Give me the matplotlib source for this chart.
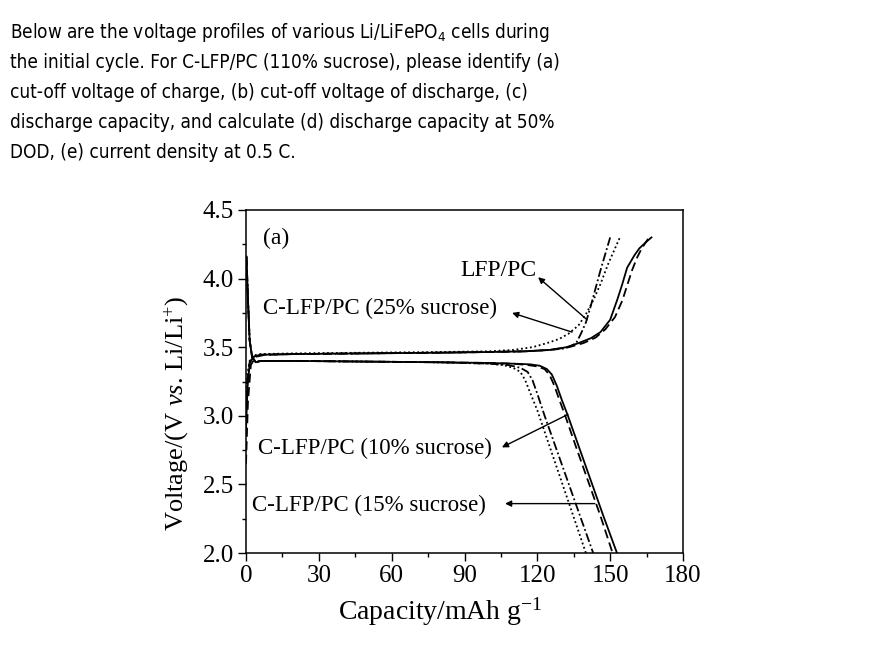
import matplotlib
matplotlib.use("Agg")
import matplotlib.pyplot as plt
from matplotlib.ticker import MultipleLocator, FormatStrFormatter
from matplotlib import font_manager

W, H = 890, 651

# ---------------- data ----------------
# charge curves
chg_10_x = [0, 0.6, 1.5, 3, 6, 20, 50, 80, 100, 115, 125, 132, 137, 142, 146, 150, 153, 155, 157, 160, 162, 165, 167]
chg_10_v = [2.90, 3.20, 3.38, 3.43, 3.445, 3.45, 3.455, 3.46, 3.465, 3.47, 3.48, 3.50, 3.53, 3.565, 3.61, 3.70, 3.85, 3.96, 4.08, 4.17, 4.22, 4.27, 4.30]

chg_15_x = [0, 0.8, 2, 4, 8, 20, 50, 80, 100, 115, 125, 133, 139, 144, 148, 152, 155, 157, 159, 161, 163, 166]
chg_15_v = [2.65, 3.10, 3.37, 3.43, 3.445, 3.45, 3.455, 3.46, 3.465, 3.47, 3.48, 3.50, 3.53, 3.57, 3.63, 3.72, 3.84, 3.95, 4.06, 4.15, 4.22, 4.30]

chg_lfp_x = [0, 0.5, 1.5, 3, 6, 20, 50, 80, 100, 115, 125, 131, 134, 136, 138, 140, 142, 144, 146, 148, 150]
chg_lfp_v = [3.00, 3.25, 3.39, 3.43, 3.445, 3.45, 3.455, 3.46, 3.465, 3.47, 3.48, 3.49, 3.51, 3.53, 3.60, 3.68, 3.80, 3.93, 4.06, 4.18, 4.30]

chg_25_x = [0, 0.5, 1.5, 3, 6, 20, 50, 80, 100, 110, 118, 124, 129, 133, 137, 140, 143, 146, 149, 152, 154]
chg_25_v = [3.10, 3.30, 3.40, 3.44, 3.45, 3.455, 3.46, 3.465, 3.47, 3.48, 3.50, 3.53, 3.56, 3.60, 3.66, 3.74, 3.84, 3.96, 4.10, 4.22, 4.30]

# discharge curves
dis_10_x = [0.2, 0.8, 1.5, 2.5, 4, 6, 20, 50, 80, 100, 110, 117, 121, 124, 126, 128, 130, 132.6, 137, 142, 147, 152.8]
dis_10_v = [4.16, 3.85, 3.55, 3.43, 3.39, 3.40, 3.40, 3.395, 3.39, 3.385, 3.38, 3.375, 3.365, 3.34, 3.30, 3.22, 3.12, 3.00, 2.78, 2.53, 2.28, 2.00]

dis_15_x = [0.2, 0.8, 1.5, 2.5, 4, 6, 20, 50, 80, 100, 110, 116, 120, 123, 125, 127, 129, 131.5, 136, 141, 146, 151]
dis_15_v = [4.16, 3.85, 3.55, 3.43, 3.39, 3.40, 3.40, 3.395, 3.39, 3.385, 3.38, 3.37, 3.36, 3.34, 3.30, 3.22, 3.12, 3.00, 2.77, 2.52, 2.27, 2.00]

dis_lfp_x = [0.2, 0.8, 1.5, 2.5, 4, 6, 20, 50, 80, 100, 108, 113, 116, 118, 120, 123, 128, 133, 138, 143]
dis_lfp_v = [4.16, 3.85, 3.55, 3.43, 3.39, 3.40, 3.40, 3.395, 3.39, 3.38, 3.37, 3.35, 3.32, 3.26, 3.16, 3.00, 2.75, 2.50, 2.25, 2.00]

dis_25_x = [0.2, 0.8, 1.5, 2.5, 4, 6, 20, 50, 80, 100, 106, 110, 113, 115, 117, 120, 125, 130, 135, 140]
dis_25_v = [4.16, 3.85, 3.55, 3.43, 3.39, 3.40, 3.40, 3.395, 3.39, 3.38, 3.37, 3.35, 3.32, 3.26, 3.17, 3.04, 2.78, 2.52, 2.26, 2.00]

x_ticks = [0, 30, 60, 90, 120, 150, 180]
y_ticks = [2.0, 2.5, 3.0, 3.5, 4.0, 4.5]

question_lines = [
    r"Below are the voltage profiles of various Li/LiFePO$_\mathregular{4}$ cells during",
    "the initial cycle. For C-LFP/PC (110% sucrose), please identify (a)",
    "cut-off voltage of charge, (b) cut-off voltage of discharge, (c)",
    "discharge capacity, and calculate (d) discharge capacity at 50%",
    "DOD, (e) current density at 0.5 C.",
]

serif = "Liberation Serif"

# the original question uses a narrow sans; take a condensed face if one is installed
narrow = None
for f in font_manager.fontManager.ttflist:
    nm = f.fname.lower()
    if ("condensed" in nm or "narrow" in nm) and "sans" in nm and "bold" not in nm \
            and "oblique" not in nm and "italic" not in nm and "mono" not in nm:
        narrow = f.fname
        break

if narrow:
    qfont = font_manager.FontProperties(fname=narrow)
    target_w = 540
else:
    qfont = font_manager.FontProperties(family="Lato")
    target_w = 600

plt.rcParams["mathtext.fontset"] = "custom"
plt.rcParams["mathtext.rm"] = qfont.get_name() if narrow else "Lato"
plt.rcParams["font.family"] = serif

fig = plt.figure(figsize=(W / 100, H / 100), dpi=100)
renderer = fig.canvas.get_renderer()

# size the question so its first line is roughly as long as in the original
qfont.set_size(17)
probe = fig.text(0, 0, question_lines[0], fontproperties=qfont)
w = probe.get_window_extent(renderer).width
probe.remove()
qfont.set_size(17 * target_w / w)

for i, line in enumerate(question_lines):
    fig.text(10 / W, 1 - (37.5 + 30 * i) / H, line, fontproperties=qfont,
             ha="left", va="baseline")

plt.rcParams["mathtext.rm"] = serif
plt.rcParams["mathtext.it"] = serif + ":italic"

ax = fig.add_axes([246 / W, 1 - 553 / H, (683 - 246) / W, (553 - 210) / H])

style = dict(color="black", lw=1.3)
ax.plot(chg_10_x, chg_10_v, ls="-", **style)
ax.plot(dis_10_x, dis_10_v, ls="-", **style)
ax.plot(chg_15_x, chg_15_v, ls=(0, (5, 2.5)), **style)
ax.plot(dis_15_x, dis_15_v, ls=(0, (5, 2.5)), **style)
ax.plot(chg_lfp_x, chg_lfp_v, ls=(0, (5, 1.5, 1, 1.5)), **style)
ax.plot(dis_lfp_x, dis_lfp_v, ls=(0, (5, 1.5, 1, 1.5)), **style)
ax.plot(chg_25_x, chg_25_v, ls=(0, (1, 1.5)), **style)
ax.plot(dis_25_x, dis_25_v, ls=(0, (1, 1.5)), **style)

ax.set_xlim(0, 180)
ax.set_ylim(2.0, 4.5)
ax.set_xticks(x_ticks)
ax.set_yticks(y_ticks)
ax.xaxis.set_minor_locator(MultipleLocator(15))
ax.yaxis.set_minor_locator(MultipleLocator(0.25))
ax.tick_params(which="both", direction="out", top=False, right=False, labelsize=18, width=1.0, pad=2.5)
ax.tick_params(which="major", length=6)
ax.tick_params(which="minor", length=3)
ax.yaxis.set_major_formatter(FormatStrFormatter("%.1f"))
for sp in ax.spines.values():
    sp.set_linewidth(1.1)

ax.set_xlabel(r"Capacity/mAh g$^{\mathregular{-1}}$", fontsize=20, va="baseline")
ax.xaxis.set_label_coords(0.444, -0.195)
ax.set_ylabel(r"Voltage/(V $\mathit{vs}$. Li/Li$^{\mathregular{+}}$)", fontsize=19, va="center")
ax.yaxis.set_label_coords(-0.158, 0.408)

ax.text(7, 4.29, "(a)", fontsize=17, va="center", ha="left")
ax.text(119.5, 4.06, "LFP/PC", fontsize=17, va="center", ha="right")
ax.text(7, 3.78, "C-LFP/PC (25% sucrose)", fontsize=16.5, va="center", ha="left")
ax.text(4.9, 2.76, "C-LFP/PC (10% sucrose)", fontsize=16.5, va="center", ha="left")
ax.text(2.5, 2.35, "C-LFP/PC (15% sucrose)", fontsize=16.5, va="center", ha="left")

arrow = dict(arrowstyle="-|>", color="black", lw=1.0, mutation_scale=9, shrinkA=0, shrinkB=0)
ax.annotate("", xy=(120.3, 4.01), xytext=(140.5, 3.70), arrowprops=arrow)
ax.annotate("", xy=(109.6, 3.75), xytext=(134.3, 3.61), arrowprops=arrow)
ax.annotate("", xy=(105.4, 2.77), xytext=(132.6, 3.01), arrowprops=arrow)
ax.annotate("", xy=(106.7, 2.36), xytext=(143.7, 2.36), arrowprops=arrow)

fig.savefig("out.png", dpi=100)
